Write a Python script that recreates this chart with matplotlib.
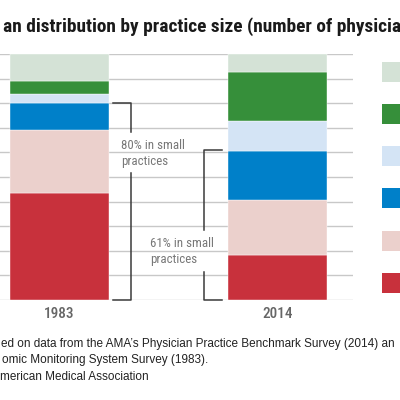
import numpy as np
import matplotlib
matplotlib.use("Agg")
import matplotlib.pyplot as plt
from matplotlib import font_manager

# -----------------------------------------
# Data (percent of physicians, bottom to top)
# -----------------------------------------
years = ["1983", "2014"]
sizes = ["1", "2\u20134", "5\u20139", "10\u201324", "25\u201349", "50+"]
share_1983 = [43.6, 25.7, 10.7, 3.8, 5.2, 11.0]
share_2014 = [18.4, 22.4, 19.9, 11.9, 19.9, 7.5]
colors = ["#c8313c", "#ebd0cc", "#0080c9", "#d4e4f5", "#368f3a", "#d4e2d6"]

small_1983 = 80
small_2014 = 61

# pick the narrowest family that is installed
avail = {f.name for f in font_manager.fontManager.ttflist}
cond_name = next(n for n in ["Roboto Condensed", "Liberation Sans Narrow",
                             "Open Sans Condensed", "Roboto", "Liberation Sans",
                             "DejaVu Sans"] if n in avail)
COND = [cond_name, "DejaVu Sans"]
PLAIN = ["Liberation Sans", "DejaVu Sans"]

fig = plt.figure(figsize=(4, 4), dpi=100)
renderer = fig.canvas.get_renderer()


def fit_width(t, width_px):
    # scale a text so that its widest line spans width_px
    w = t.get_window_extent(renderer).width
    t.set_fontsize(t.get_fontsize() * width_px / w)
    return t.get_fontsize()


ax = fig.add_axes([0, 0.25, 353 / 400, 246 / 400])

values = np.array([share_1983, share_2014])
x = np.arange(len(years))
bottom = np.zeros(len(years))
for i, label in enumerate(sizes):
    ax.bar(x, values[:, i], bottom=bottom, width=0.454, color=colors[i],
           edgecolor="white", linewidth=0.3, zorder=3, label=label)
    bottom += values[:, i]

ax.set_xlim(-0.273, 1.346)
ax.set_ylim(0, 100)
ax.set_yticks(np.arange(0, 101, 10))
ax.set_yticklabels([])
ax.grid(axis="y", color="#c8c8c8", linewidth=1.0, zorder=0)
ax.set_axisbelow(True)
for s in ax.spines.values():
    s.set_visible(False)
ax.set_xticks(x)
ax.set_xticklabels(years, family=COND, fontsize=11, fontweight="medium",
                   color="#666666")
ax.tick_params(axis="both", length=0, pad=5)

# brackets
line_kw = dict(color="#3a3a3a", linewidth=1.1, zorder=4, clip_on=False)
bx = 0.328
ax.plot([0.245, bx, bx], [small_1983, small_1983, 68.4], **line_kw)
ax.plot([bx, bx, 0.245], [51.6, 0, 0], **line_kw)
t80 = ax.text(0.282, 59.6, f"{small_1983}% in small\npractices", family=COND,
              fontsize=9.5, color="#777777", va="center", ha="left",
              linespacing=1.3)
fit_width(t80, 64)

bx = 0.663
ax.plot([0.745, bx, bx], [small_2014, small_2014, 28.5], **line_kw)
ax.plot([bx, bx, 0.745], [11.5, 0, 0], **line_kw)
t61 = ax.text(0.415, 19.6, f"{small_2014}% in small\npractices", family=COND,
              fontsize=9.5, color="#777777", va="center", ha="left",
              linespacing=1.3)
t61.set_fontsize(t80.get_fontsize())

# legend squares (their labels lie outside the crop)
lax = fig.add_axes([381.7 / 400, 107 / 400, 20 / 400, 231.3 / 400])
pos = np.arange(len(sizes))
lax.barh(pos, 1, height=20 / 42.26, color=colors)
lax.set_xlim(0, 1)
lax.set_ylim(-0.2366, len(sizes) - 1 + 0.2366)
lax.axis("off")

title = fig.text(3 / 400, 1 - 27 / 400,
                 "an distribution by practice size (number of physicia",
                 family=COND, fontsize=12, fontweight="bold", color="#1a1a1a",
                 va="center", ha="left")
fit_width(title, 400)

note1 = fig.text(1 / 400, 1 - 344 / 400,
                 "ed on data from the AMA\u2019s Physician Practice Benchmark Survey (2014) an",
                 family=PLAIN, fontsize=8, color="#222222", va="center", ha="left")
fs = fit_width(note1, 398)
fig.text(2 / 400, 1 - 359.5 / 400, "omic Monitoring System Survey (1983).",
         family=PLAIN, fontsize=fs, color="#222222", va="center", ha="left")
fig.text(0, 1 - 376.5 / 400, "merican Medical Association",
         family=PLAIN, fontsize=fs, color="#222222", va="center", ha="left")

fig.savefig("out.png", dpi=100)
